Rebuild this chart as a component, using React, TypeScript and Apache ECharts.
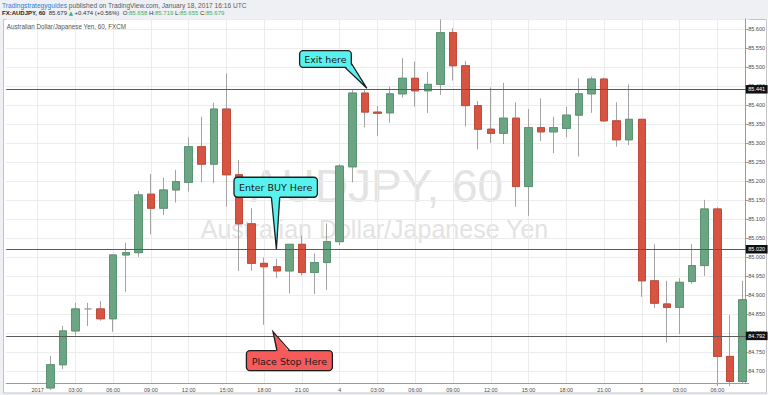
import React, { useEffect, useRef } from 'react';
import * as echarts from 'echarts';

// hourly categories, from 22:00 on Jan 2 to 08:00 on Jan 5
const hourLabels = [
  '22:00', '23:00', '2017',
  '01:00', '02:00', '03:00', '04:00', '05:00', '06:00', '07:00', '08:00', '09:00', '10:00', '11:00', '12:00',
  '13:00', '14:00', '15:00', '16:00', '17:00', '18:00', '19:00', '20:00', '21:00', '22:00', '23:00',
  '4',
  '01:00', '02:00', '03:00', '04:00', '05:00', '06:00', '07:00', '08:00', '09:00', '10:00', '11:00', '12:00',
  '13:00', '14:00', '15:00', '16:00', '17:00', '18:00', '19:00', '20:00', '21:00', '22:00', '23:00',
  '5',
  '01:00', '02:00', '03:00', '04:00', '05:00', '06:00', '07:00', '08:00',
];

const opens = [
  null, null, null,
  84.655, 84.716, 84.805, 84.863, 84.863, 84.837, 85.005, 85.011, 85.165, 85.128, 85.176, 85.196,
  85.290, 85.244, 85.389, 85.216, 85.087, 84.983, 84.974, 84.963, 85.033, 84.959, 84.985, 85.040,
  85.237, 85.431, 85.381, 85.379, 85.429, 85.470, 85.437, 85.454, 85.590, 85.503, 85.398, 85.336,
  85.325, 85.365, 85.185, 85.340, 85.329, 85.338, 85.373, 85.429, 85.468, 85.358, 85.308, 85.362,
  84.937, 84.876, 84.867, 84.935, 84.977, 85.126, 84.738, 84.672,
];
const closes = [
  null, null, null,
  84.716, 84.805, 84.863, 84.863, 84.837, 85.005, 85.011, 85.163, 85.128, 85.176, 85.198, 85.290,
  85.244, 85.389, 85.216, 85.087, 84.983, 84.974, 84.963, 85.033, 84.959, 84.985, 85.040, 85.239,
  85.431, 85.381, 85.378, 85.429, 85.470, 85.437, 85.454, 85.590, 85.503, 85.398, 85.336, 85.325,
  85.365, 85.185, 85.340, 85.329, 85.340, 85.373, 85.429, 85.468, 85.358, 85.308, 85.362, 84.937,
  84.878, 84.867, 84.933, 84.977, 85.126, 84.738, 84.672, 84.887,
];
const lows = [
  null, null, null,
  84.650, 84.705, 84.793, 84.818, 84.832, 84.803, 84.908, 85.000, 85.059, 85.110, 85.143, 85.172,
  85.196, 85.194, 85.132, 84.963, 84.963, 84.821, 84.944, 84.904, 84.951, 84.902, 84.913, 85.031,
  85.196, 85.341, 85.318, 85.353, 85.419, 85.395, 85.379, 85.426, 85.464, 85.343, 85.283, 85.300,
  85.297, 85.132, 85.108, 85.305, 85.273, 85.315, 85.264, 85.379, 85.355, 85.290, 85.294, 84.895,
  84.865, 84.775, 84.797, 84.929, 84.950, 84.660, 84.660, 84.665,
];
const highs = [
  null, null, null,
  84.739, 84.818, 84.879, 84.879, 84.884, 85.006, 85.037, 85.173, 85.218, 85.208, 85.229, 85.314,
  85.369, 85.406, 85.483, 85.255, 85.128, 84.998, 84.995, 85.034, 85.056, 85.009, 85.088, 85.244,
  85.439, 85.441, 85.397, 85.448, 85.523, 85.514, 85.487, 85.625, 85.602, 85.516, 85.410, 85.446,
  85.458, 85.407, 85.389, 85.417, 85.369, 85.395, 85.470, 85.474, 85.472, 85.407, 85.454, 85.363,
  85.033, 84.937, 84.944, 85.034, 85.150, 85.131, 84.847, 84.937,
];

const levelLines = [85.441, 85.02, 84.792];
const lastPrice = 84.887;
const countdown = '43:13';

const yMin = 84.668;
const yMax = 85.626;

const UP = '#6ba583';
const DOWN = '#d75442';
const UP_BORDER = '#5a9573';
const DOWN_BORDER = '#c24a3a';
const WICK = '#a3a3a3';
const GRID = '#ececec';
const AXIS_TEXT = '#4a4a4a';
const FONT = '"Liberation Sans", Arial, sans-serif';

const headerLine1 = ['Tradingstrategyguides', 'published on TradingView.com, January 18, 2017 16:16 UTC'];
const headerSymbol = 'FX:AUDJPY, 60';
const headerQuote = ['85.679', '+0.474 (+0.56%)'];
const headerOHLC = [['O:', '85.658'], ['H:', '85.719'], ['L:', '85.655'], ['C:', '85.679']];
const paneTitle = 'Australian Dollar/Japanese Yen, 60, FXCM';
const watermark = ['AUDJPY, 60', 'Australian Dollar/Japanese Yen'];

const callouts = [
  { text: 'Exit here', fill: '#57f2ee', at: [28, 85.441], nudge: [2, -1],
    box: [-67.3, -37.6, 51.7, 16.6], tail: [[-22, -21], [0, 0], [-15.6, -25]], tailFill: [[-22.6, -23], [0, 0], [-17.8, -26]] },
  { text: 'Enter BUY Here', fill: '#57f2ee', at: [21, 85.02], nudge: [-0.4, 0],
    box: [-42.4, -72, 83.4, 20], tail: [[-5, -52], [0, 0], [3.3, -52]], tailFill: [[-5.4, -54.5], [0, 0], [3.7, -54.5]] },
  { text: 'Place Stop Here', fill: '#f65b5b', at: [21, 84.792], nudge: [-3.8, -4.2],
    box: [-26.6, 19, 86, 20], tail: [[4, 19], [0, 0], [16.7, 19]], tailFill: [[3.7, 21.5], [0, 0], [17.3, 21.5]] },
];

const showEvery3 = (idx: number) => (idx - 2) % 3 === 0;

export default function App() {
  const ref = useRef<HTMLDivElement>(null);

  useEffect(() => {
    document.body.style.margin = '0';
    const chart = echarts.init(ref.current!, null, { renderer: 'svg' });

    const wickData = opens.map((o, i) =>
      o == null ? ['-', '-', '-', '-'] : [o, closes[i], lows[i], highs[i]]);
    const bodyData = opens.map((o, i) => {
      const c = closes[i];
      if (o == null || c == null || o === c) return ['-', '-', '-', '-'];
      return [o, c, Math.min(o, c), Math.max(o, c)];
    });

    const staticGraphics: any[] = [
      { type: 'rect', z: -20, silent: true, shape: { x: 0, y: 0, width: 768, height: 19 }, style: { fill: '#eef0f3' } },
      { type: 'rect', z: -20, silent: true, shape: { x: 0, y: 19, width: 3, height: 376 }, style: { fill: '#eef0f3' } },
      { type: 'rect', z: -20, silent: true, shape: { x: 0, y: 393, width: 768, height: 2 }, style: { fill: '#eef0f3' } },
      { type: 'rect', z: -20, silent: true, shape: { x: 3.5, y: 19.5, width: 763, height: 373.5 },
        style: { fill: 'none', stroke: '#c4c4c4', lineWidth: 1 } },
      {
        type: 'text', x: 2, y: 5, silent: true,
        style: {
          text: `{a|${headerLine1[0]}} {b|${headerLine1[1]}}`,
          fontSize: 6.6, fontFamily: FONT, verticalAlign: 'middle', textVerticalAlign: 'middle',
          rich: {
            a: { fill: '#2f7fd4', fontSize: 6.6, fontFamily: FONT },
            b: { fill: '#5d5d5d', fontSize: 6.6, fontFamily: FONT },
          },
        },
      },
      {
        type: 'text', x: 2, y: 12.8, silent: true,
        style: {
          text: `{k|${headerSymbol}}  {v|${headerQuote[0]}} {t|▲} {v|${headerQuote[1]}}  ` +
            headerOHLC.map(([k, v]) => `{v|${k}}{g|${v}}`).join(' '),
          fontSize: 6, fontFamily: FONT, verticalAlign: 'middle', textVerticalAlign: 'middle',
          rich: {
            k: { fill: '#222', fontWeight: 'bold', fontSize: 6, fontFamily: FONT },
            v: { fill: '#333', fontSize: 6, fontFamily: FONT },
            g: { fill: '#3fae6a', fontSize: 6, fontFamily: FONT },
            t: { fill: '#3fae6a', fontSize: 5.5, fontFamily: '"DejaVu Sans"' },
          },
        },
      },
      {
        type: 'text', x: 6.7, y: 26.3, silent: true,
        style: { text: paneTitle, fill: '#555', fontSize: 6.3, fontFamily: FONT,
          verticalAlign: 'middle', textVerticalAlign: 'middle' },
      },
      {
        type: 'text', x: 377, y: 186, z: -5, silent: true,
        style: { text: watermark[0], fill: '#e3e3e3', fontSize: 46, fontFamily: FONT,
          align: 'center', textAlign: 'center', verticalAlign: 'middle', textVerticalAlign: 'middle' },
      },
      {
        type: 'text', x: 374.5, y: 229, z: -5, silent: true,
        style: { text: watermark[1], fill: '#e3e3e3', fontSize: 25, fontFamily: FONT,
          align: 'center', textAlign: 'center', verticalAlign: 'middle', textVerticalAlign: 'middle' },
      },
    ];

    chart.setOption({
      animation: false,
      backgroundColor: '#ffffff',
      textStyle: { fontFamily: FONT },
      grid: { left: 6.2, top: 19, width: 743.4, bottom: 12, containLabel: false },
      xAxis: {
        type: 'category',
        data: hourLabels,
        boundaryGap: true,
        axisLine: { show: true, lineStyle: { color: '#9a9a9a', width: 1 } },
        axisTick: { show: false },
        axisLabel: { interval: showEvery3, fontSize: 5.5, color: AXIS_TEXT, margin: 3.5, fontFamily: FONT },
        splitLine: { show: true, interval: showEvery3, alignWithLabel: true, lineStyle: { color: GRID, width: 1 } },
      },
      yAxis: {
        type: 'value',
        position: 'right',
        offset: -3.1,
        min: yMin,
        max: yMax,
        scale: true,
        splitNumber: 19,
        minInterval: 0.05,
        maxInterval: 0.05,
        axisLine: { show: true, lineStyle: { color: '#9a9a9a', width: 1 } },
        axisTick: { show: true, length: 2.5, lineStyle: { color: '#9a9a9a' } },
        axisLabel: {
          fontSize: 5.5, color: AXIS_TEXT, margin: 2.5, fontFamily: FONT,
          showMinLabel: false, showMaxLabel: false,
          formatter: (v: number) => v.toFixed(3),
        },
        splitLine: { show: true, lineStyle: { color: GRID, width: 1 } },
      },
      series: [
        {
          type: 'candlestick',
          name: 'wicks',
          data: wickData,
          barWidth: 8,
          silent: true,
          clip: true,
          itemStyle: { color: UP, color0: DOWN, borderColor: WICK, borderColor0: WICK, borderWidth: 1 },
        },
        {
          type: 'candlestick',
          name: 'bodies',
          data: bodyData,
          barWidth: 8,
          silent: true,
          clip: true,
          itemStyle: { color: UP, color0: DOWN, borderColor: UP_BORDER, borderColor0: DOWN_BORDER, borderWidth: 1 },
          markLine: {
            silent: true,
            symbol: ['none', 'none'],
            precision: 3,
            lineStyle: { color: '#5a5a5a', type: 'solid', width: 1 },
            label: {
              show: true, position: 'end', distance: -3,
              formatter: (p: any) => Number(p.value).toFixed(3),
              color: '#fff', backgroundColor: '#111', fontSize: 5.5, fontFamily: FONT,
              padding: [1.5, 2.5, 1, 2.5],
            },
            data: [
              ...levelLines.map((v) => ({ yAxis: v })),
              {
                yAxis: lastPrice,
                lineStyle: { opacity: 0 },
                label: {
                  backgroundColor: 'transparent', padding: 0,
                  formatter: () => `{e|0}\n{a|${lastPrice.toFixed(3)}}\n{b|${countdown}}`,
                  rich: {
                    e: { color: 'transparent', fontSize: 5.5, lineHeight: 8.5 },
                    a: { color: '#fff', backgroundColor: UP, fontSize: 5.5, lineHeight: 8.5, padding: [1.5, 2.5, 1, 2.5] },
                    b: { color: '#fff', backgroundColor: UP, fontSize: 5.5, lineHeight: 8.5, padding: [1.5, 2.5, 1, 2.5], align: 'right' },
                  },
                },
              },
            ],
          },
        },
      ],
      graphic: staticGraphics,
    });

    const calloutGraphics: any[] = [];
    callouts.forEach((c) => {
      const p = chart.convertToPixel({ gridIndex: 0 }, c.at as any) as number[];
      const tx = p[0] + c.nudge[0];
      const ty = p[1] + c.nudge[1];
      const [bx, by, bw, bh] = c.box;
      const pts = (arr: number[][]) => arr.map(([x, y]) => [tx + x, ty + y]);
      calloutGraphics.push(
        { type: 'rect', z: 100, silent: true, shape: { x: tx + bx, y: ty + by, width: bw, height: bh, r: 3.5 },
          style: { fill: c.fill, stroke: '#1e1e1e', lineWidth: 1.3 } },
        { type: 'polygon', z: 101, silent: true, shape: { points: pts(c.tailFill) }, style: { fill: c.fill } },
        { type: 'polyline', z: 102, silent: true, shape: { points: pts(c.tail) },
          style: { fill: null, stroke: '#1e1e1e', lineWidth: 1.3 } },
        { type: 'text', z: 103, silent: true, x: tx + bx + bw / 2, y: ty + by + bh / 2 + 0.5,
          style: { text: c.text, fill: '#1a1a1a', fontSize: 9.5, fontFamily: '"DejaVu Sans", Verdana, sans-serif',
            align: 'center', textAlign: 'center', verticalAlign: 'middle', textVerticalAlign: 'middle' } },
      );
    });
    chart.setOption({ graphic: [...staticGraphics, ...calloutGraphics] }, { replaceMerge: ['graphic'] });

    return () => chart.dispose();
  }, []);

  return <div ref={ref} style={{ width: 768, height: 395 }} />;
}
